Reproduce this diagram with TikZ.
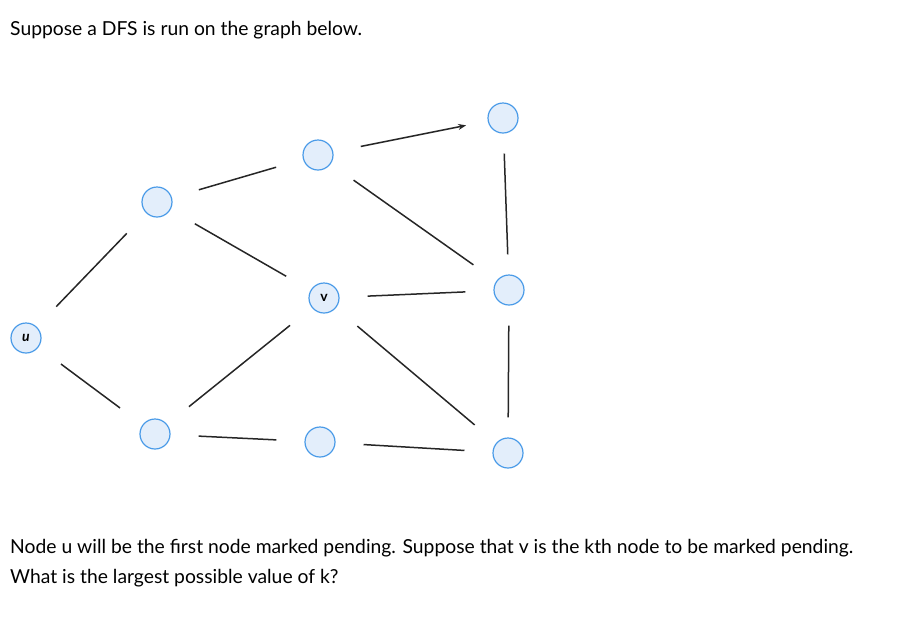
\documentclass[tikz,border=0pt]{standalone}
\usepackage{fontspec}
\setmainfont{Lato}
\usetikzlibrary{arrows.meta}
\definecolor{nodefill}{HTML}{E3EEFB}
\definecolor{nodeline}{HTML}{4A9BE8}
\begin{document}
\begin{tikzpicture}[x=1pt,y=-1pt,
  vtx/.style={circle,draw=nodeline,fill=nodefill,line width=1.2pt,minimum size=30pt,inner sep=0pt,font=\bfseries\fontsize{14}{14}\selectfont},
  edge/.style={line width=1.5pt,black!85,shorten >=28pt,shorten <=28pt},
  vedge/.style={line width=1.5pt,black!85,shorten >=20pt,shorten <=20pt},
  txt/.style={anchor=base west,inner sep=0pt,font=\fontsize{19.3}{22}\selectfont}]
\useasboundingbox (0,0) rectangle (906,625);
\node[txt] (t1) at (10,35) {Suppose a DFS is run on the graph below.};
\node[vtx] (u) at (26,338) {\itshape u};
\node[vtx] (a) at (157,202) {};
\node[vtx] (b) at (318,155) {};
\node[vtx] (c) at (503,118) {};
\node[vtx] (v) at (324,298) {v};
\node[vtx] (d) at (509,290) {};
\node[vtx] (e) at (155,434) {};
\node[vtx] (f) at (320,442) {};
\node[vtx] (g) at (508,453) {};
\draw[edge] (u) -- (a);
\draw[edge] (a) -- (b);
\draw[edge,-{Stealth[length=8pt,width=6pt]},shorten >=22pt] (b) -- (c);
\draw[vedge] (c) -- (d);
\draw[edge] (b) -- (d);
\draw[edge] (a) -- (v);
\draw[edge] (v) -- (d);
\draw[edge] (u) -- (e);
\draw[edge] (e) -- (v);
\draw[edge] (e) -- (f);
\draw[edge] (f) -- (g);
\draw[edge] (v) -- (g);
\draw[vedge] (d) -- (g);
\node[txt] (t2) at (10,553) {Node u will be the first node marked pending. Suppose that v is the kth node to be marked pending.};
\node[txt] (t3) at (10,583) {What is the largest possible value of k?};
\end{tikzpicture}
\end{document}
